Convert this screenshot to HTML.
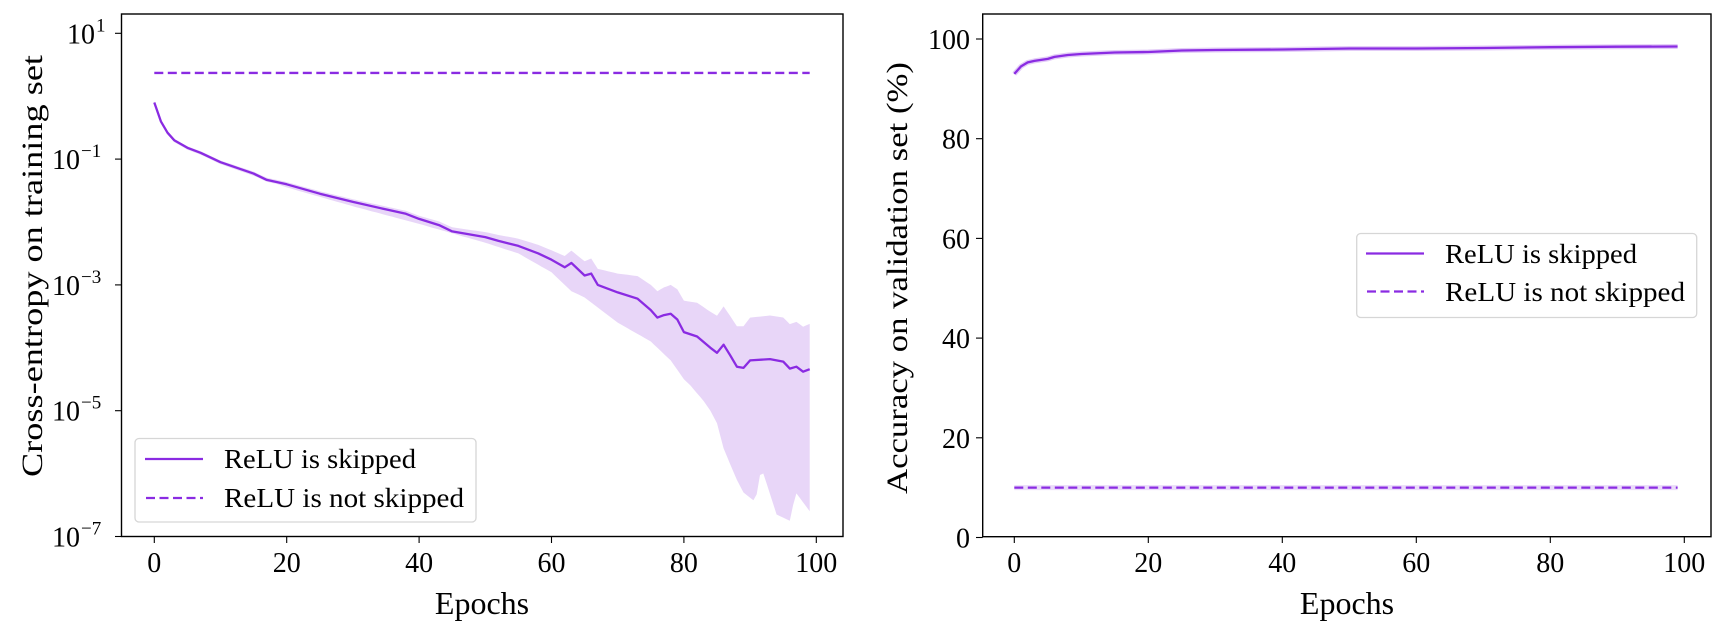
<!DOCTYPE html>
<html><head><meta charset="utf-8">
<style>
html,body{margin:0;padding:0;background:#fff;}
svg text{font-family:"Liberation Serif",serif;fill:#000;}
</style></head>
<body>
<svg id="s" width="1725" height="630" xmlns="http://www.w3.org/2000/svg">
<rect width="1725" height="630" fill="#fff"/>
<g id="L"></g>
<g id="R"></g>
</svg>
<script>
const NS="http://www.w3.org/2000/svg";
const C="#8a2be2";
function el(p,tag,a,txt){const e=document.createElementNS(NS,tag);for(const k in a)e.setAttribute(k,a[k]);if(txt!==undefined)e.textContent=txt;p.appendChild(e);return e;}
function interp(pts,e){for(let i=0;i<pts.length-1;i++){const [a,va]=pts[i],[b,vb]=pts[i+1];if(e>=a&&e<=b)return va+(vb-va)*(e-a)/(b-a);}return pts[pts.length-1][1];}
const L=document.getElementById('L'),R=document.getElementById('R');
const lx=e=>154.3+6.62*e, ly=l=>33.3+(1-l)*62.9;
const mid=[[0,-0.1],[1,-0.4],[2,-0.58],[3,-0.7],[5,-0.82],[7,-0.9],[10,-1.05],[15,-1.23],[17,-1.33],[20,-1.4],[25,-1.55],[30,-1.68],[35,-1.8],[38,-1.87],[40,-1.95],[43,-2.05],[45,-2.15],[50,-2.24],[52,-2.3],[55,-2.38],[58,-2.5],[60,-2.6],[62,-2.72],[63,-2.65],[65,-2.85],[66,-2.82],[67,-3.0],[70,-3.12],[73,-3.22],[75,-3.4],[76,-3.52],[77,-3.48],[78,-3.46],[79,-3.55],[80,-3.75],[82,-3.82],[84,-4.0],[85,-4.08],[86,-3.95],[87,-4.12],[88,-4.3],[89,-4.32],[90,-4.2],[93,-4.18],[95,-4.22],[96,-4.33],[97,-4.3],[98,-4.38],[99,-4.34]];
const du=[[0,0.02],[40,0.05],[50,0.08],[60,0.15],[70,0.3],[80,0.5],[90,0.68],[99,0.72]];
const lo=[[0,-0.1],[10,-1.08],[20,-1.45],[30,-1.75],[40,-2.03],[50,-2.33],[55,-2.5],[60,-2.8],[63,-3.1],[65,-3.2],[70,-3.6],[75,-3.9],[78,-4.2],[80,-4.5],[81,-4.6],[83,-4.85],[84,-5.0],[85,-5.2],[86,-5.6],[88,-6.1],[89,-6.3],[90.8,-6.45],[91.7,-5.9],[94,-6.65],[96,-6.75],[96.9,-6.3],[99,-6.6]];
let d="";for(let e=0;e<=99;e+=0.5)d+=(e?"L":"M")+lx(e).toFixed(1)+","+ly(interp(mid,e)+interp(du,e)).toFixed(1);
for(let e=99;e>=0;e-=0.5)d+="L"+lx(e).toFixed(1)+","+ly(Math.min(interp(lo,e),interp(mid,e)-0.03)).toFixed(1);
el(L,'path',{d:d+"Z",fill:"#e8d6f8"});
el(L,'polyline',{points:mid.map(p=>lx(p[0]).toFixed(1)+","+ly(p[1]).toFixed(1)).join(" "),fill:"none",stroke:C,"stroke-width":2.3,"stroke-linejoin":"round"});
el(L,'line',{x1:lx(0),x2:lx(99),y1:ly(0.37),y2:ly(0.37),stroke:C,"stroke-width":2.3,"stroke-dasharray":"9,4.5"});
el(L,'rect',{x:121.5,y:14,width:721.5,height:522.5,fill:"none",stroke:"#000","stroke-width":1.4});
[0,20,40,60,80,100].forEach(v=>{const x=lx(v);el(L,'line',{x1:x,x2:x,y1:536.5,y2:543,stroke:"#000","stroke-width":1.1});el(L,'text',{x:x,y:572,"font-size":28,"text-anchor":"middle"},v);});
[1,-1,-3,-5,-7].forEach(p=>{const y=ly(p);el(L,'line',{x1:115,x2:121.5,y1:y,y2:y,stroke:"#000","stroke-width":1.1});
 el(L,'text',{x:p>0?95:80,y:y+10,"font-size":28,"text-anchor":"end"},"10");
 el(L,'text',{x:p>0?96:81,y:y-2,"font-size":19,"text-anchor":"start"},p>0?"1":"\u2212"+(-p));});
el(L,'text',{x:482,y:614,"font-size":32,"text-anchor":"middle"},"Epochs");
el(L,'text',{transform:"translate(42,266) rotate(-90)","font-size":30,"text-anchor":"middle",textLength:422,lengthAdjust:"spacingAndGlyphs"},"Cross-entropy on training set");
el(L,'rect',{x:135,y:438.5,width:341,height:83.5,rx:4,fill:"#fff","fill-opacity":0.85,stroke:"#d6d6d6","stroke-width":1.3});
el(L,'line',{x1:145,x2:203,y1:459,y2:459,stroke:C,"stroke-width":2.3});
el(L,'line',{x1:146,x2:203,y1:498,y2:498,stroke:C,"stroke-width":2.3,"stroke-dasharray":"9,4.5"});
el(L,'text',{x:224,y:468,"font-size":27,textLength:192,lengthAdjust:"spacingAndGlyphs"},"ReLU is skipped");
el(L,'text',{x:224,y:507,"font-size":27,textLength:240,lengthAdjust:"spacingAndGlyphs"},"ReLU is not skipped");
const rx=e=>1014.3+6.7*e, ry=v=>537.5-4.985*v;
const acc=[[0,93],[1,94.5],[2,95.3],[3,95.6],[5,96],[6,96.4],[8,96.8],[10,97],[15,97.3],[20,97.4],[25,97.7],[30,97.8],[40,97.9],[50,98.1],[60,98.1],[70,98.2],[80,98.35],[90,98.45],[99,98.5]];
el(R,'polyline',{points:acc.map(p=>rx(p[0]).toFixed(1)+","+ry(p[1]).toFixed(1)).join(" "),fill:"none",stroke:"#e3ccf7","stroke-width":5,"stroke-linejoin":"round"});
el(R,'polyline',{points:acc.map(p=>rx(p[0]).toFixed(1)+","+ry(p[1]).toFixed(1)).join(" "),fill:"none",stroke:C,"stroke-width":2.3,"stroke-linejoin":"round"});
el(R,'line',{x1:rx(0),x2:rx(99),y1:ry(10),y2:ry(10),stroke:"#eadcf9","stroke-width":5});
el(R,'line',{x1:rx(0),x2:rx(99),y1:ry(10),y2:ry(10),stroke:C,"stroke-width":2.3,"stroke-dasharray":"9,4.5"});
el(R,'rect',{x:982.7,y:14,width:728.3,height:522.7,fill:"none",stroke:"#000","stroke-width":1.4});
[0,20,40,60,80,100].forEach(v=>{const x=rx(v);el(R,'line',{x1:x,x2:x,y1:536.7,y2:543,stroke:"#000","stroke-width":1.1});el(R,'text',{x:x,y:572,"font-size":28,"text-anchor":"middle"},v);
 const y=ry(v);el(R,'line',{x1:976,x2:982.7,y1:y,y2:y,stroke:"#000","stroke-width":1.1});el(R,'text',{x:970,y:y+10,"font-size":28,"text-anchor":"end"},v);});
el(R,'text',{x:1347,y:614,"font-size":32,"text-anchor":"middle"},"Epochs");
el(R,'text',{transform:"translate(907,278) rotate(-90)","font-size":30,"text-anchor":"middle",textLength:432,lengthAdjust:"spacingAndGlyphs"},"Accuracy on validation set (%)");
el(R,'rect',{x:1356.7,y:233.5,width:340,height:84,rx:4,fill:"#fff","fill-opacity":0.85,stroke:"#d6d6d6","stroke-width":1.3});
el(R,'line',{x1:1366,x2:1424,y1:253.5,y2:253.5,stroke:C,"stroke-width":2.3});
el(R,'line',{x1:1367,x2:1424,y1:291.5,y2:291.5,stroke:C,"stroke-width":2.3,"stroke-dasharray":"9,4.5"});
el(R,'text',{x:1445,y:263,"font-size":27,textLength:192,lengthAdjust:"spacingAndGlyphs"},"ReLU is skipped");
el(R,'text',{x:1445,y:301,"font-size":27,textLength:240,lengthAdjust:"spacingAndGlyphs"},"ReLU is not skipped");
</script>
</body></html>
